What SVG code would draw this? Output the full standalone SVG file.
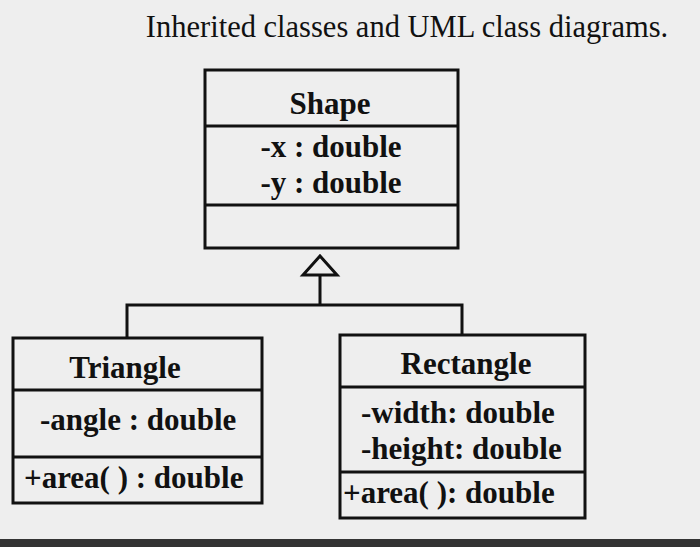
<svg xmlns="http://www.w3.org/2000/svg" width="700" height="547" viewBox="0 0 700 547">
<style>
.box{fill:none;stroke:#111;stroke-width:3}
.ln{stroke:#111;stroke-width:3;fill:none}
.t{font-family:"Liberation Serif",serif;fill:#111;font-weight:bold;font-size:31px}
</style>
<rect width="700" height="547" fill="#eeeeee"/>
<rect y="539" width="700" height="8" fill="#333"/>
<text x="407" y="37" text-anchor="middle" font-family="Liberation Serif,serif" font-size="30.5" fill="#111">Inherited classes and UML class diagrams.</text>
<g id="shape">
<rect class="box" x="205" y="70" width="253" height="178"/>
<line class="ln" x1="205" y1="126" x2="458" y2="126"/>
<line class="ln" x1="205" y1="205" x2="458" y2="205"/>
<text class="t" x="330" y="114" text-anchor="middle">Shape</text>
<text class="t" x="331" y="157" text-anchor="middle">-x : double</text>
<text class="t" x="331" y="193" text-anchor="middle">-y : double</text>
</g>
<g id="connectors">
<polygon class="ln" points="320,256 303,275 337,275" fill="#eee"/>
<line class="ln" x1="320" y1="275" x2="320" y2="305"/>
<polyline class="ln" points="127,338 127,305 462,305 462,335"/>
</g>
<g id="triangle">
<rect class="box" x="13" y="338" width="249" height="165"/>
<line class="ln" x1="13" y1="390" x2="262" y2="390"/>
<line class="ln" x1="13" y1="457" x2="262" y2="457"/>
<text class="t" x="125" y="378" text-anchor="middle">Triangle</text>
<text class="t" x="40" y="430">-angle : double</text>
<text class="t" x="24" y="488">+area( ) : double</text>
</g>
<g id="rectangle">
<rect class="box" x="340" y="335" width="245" height="183"/>
<line class="ln" x1="340" y1="387" x2="585" y2="387"/>
<line class="ln" x1="340" y1="472" x2="585" y2="472"/>
<text class="t" x="466" y="374" text-anchor="middle">Rectangle</text>
<text class="t" x="361" y="423">-width: double</text>
<text class="t" x="361" y="459">-height: double</text>
<text class="t" x="343" y="503">+area( ): double</text>
</g>
</svg>
